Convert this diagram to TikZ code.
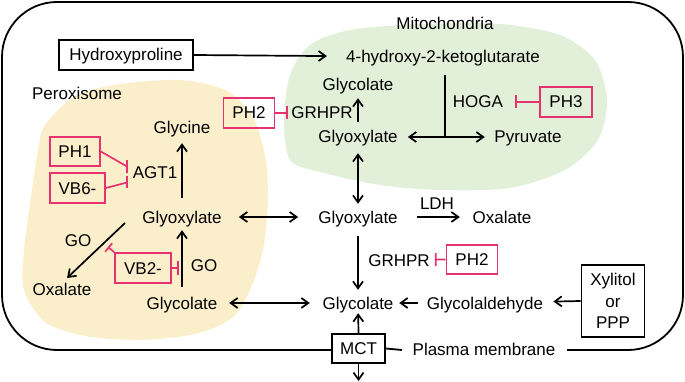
\documentclass[tikz,border=0pt]{standalone}
\usepackage{fontspec}
\setmainfont{Liberation Sans}
\usetikzlibrary{arrows.meta}
\definecolor{pk}{HTML}{E6336F}
\definecolor{grn}{HTML}{E2F0DA}
\definecolor{pch}{HTML}{FBEFCB}
\newcommand\mfs{\fontsize{17}{20}\selectfont}
\begin{document}
\begin{tikzpicture}[x=1pt,y=-1pt,
  txt/.style={font=\mfs, inner sep=0pt, text height=12pt, text depth=0pt},
  bbox/.style={draw=black, line width=1.6pt, font=\mfs, inner sep=0pt, text height=12pt, text depth=0pt},
  pbox/.style={draw=pk, line width=1.7pt, font=\mfs, inner sep=0pt, text height=12pt, text depth=0pt},
  arr/.style={line width=1.7pt, -{Straight Barb[length=7pt,width=10pt]}},
  darr/.style={line width=1.7pt, {Straight Barb[length=7pt,width=10pt]}-{Straight Barb[length=7pt,width=10pt]}},
  inh/.style={draw=pk, line width=1.7pt, -{Bar[width=13pt]}},
  pline/.style={draw=pk, line width=1.7pt},
]
\useasboundingbox (0,0) rectangle (685,382);
% compartments
\fill[pch] plot[smooth cycle] coordinates {(45,125) (75,96) (120,84) (180,80) (225,90) (252,115) (265,155) (268,200) (263,250) (250,290) (232,318) (195,334) (140,340) (85,336) (45,322) (24,290) (24,250) (32,190) (38,150)};
\fill[grn] plot[smooth cycle] coordinates {(290,75) (310,45) (350,30) (420,24) (500,24) (560,35) (595,60) (607,100) (598,140) (565,170) (510,188) (440,190) (380,185) (320,172) (290,160) (284,120)};
% cell membrane
\draw[line width=1.8pt, rounded corners=55] (567,350) -- (683,350) -- (683,2) -- (2,2) -- (2,350) -- (332,350);
% labels
\node[txt] (mito) at (445,24) {Mitochondria};
\node[txt] (perox) at (77,94) {Peroxisome};
\node[txt] (pm) at (484,349) {Plasma membrane};
% boxes
\node[bbox, minimum width=134pt, minimum height=30pt] (hyp) at (126,55) {Hydroxyproline};
\node[pbox, minimum width=51pt, minimum height=30pt] (ph2a) at (249,113) {PH2};
\node[pbox, minimum width=52pt, minimum height=30pt] (ph3) at (566,102) {PH3};
\node[pbox, minimum width=50pt, minimum height=29pt] (ph1) at (75,151.5) {PH1};
\node[pbox, minimum width=55pt, minimum height=30pt] (vb6) at (77.5,188) {VB6-};
\node[pbox, minimum width=56pt, minimum height=30pt] (vb2) at (143,268) {VB2-};
\node[pbox, minimum width=51pt, minimum height=29pt] (ph2b) at (472,259.5) {PH2};
\node[draw=black, line width=1.6pt, font=\fontsize{17}{21.5}\selectfont, align=center, inner sep=0pt, minimum width=63pt, minimum height=72pt] (xyl) at (613,301) {Xylitol\\or\\PPP};
\node[bbox, minimum width=53pt, minimum height=29pt] (mct) at (358.5,348.5) {MCT};
% metabolites
\node[txt] (hk) at (443,57) {4-hydroxy-2-ketoglutarate};
\node[txt] (mgc) at (358,85) {Glycolate};
\node[txt] (mgrhpr) at (322,113) {GRHPR};
\node[txt] (mgx) at (358,137) {Glyoxylate};
\node[txt] (hoga) at (478,102) {HOGA};
\node[txt] (pyr) at (528,137) {Pyruvate};
\node[txt] (gly) at (182,128) {Glycine};
\node[txt] (agt) at (155,173) {AGT1};
\node[txt] (pgx) at (182,217) {Glyoxylate};
\node[txt] (go1) at (78,240) {GO};
\node[txt] (pox) at (62,289) {Oxalate};
\node[txt] (go2) at (204,265) {GO};
\node[txt] (pgc) at (182,303) {Glycolate};
\node[txt] (cgx) at (358,217) {Glyoxylate};
\node[txt] (ldh) at (437,203) {LDH};
\node[txt] (cox) at (502,217) {Oxalate};
\node[txt] (cgrhpr) at (399,260) {GRHPR};
\node[txt] (cgc) at (358,303) {Glycolate};
\node[txt] (gald) at (485,303) {Glycolaldehyde};
% coordinates
\coordinate (jt) at (445,75);
\coordinate (j) at (445,137);
\coordinate (gos) at (125,223);
\coordinate (vb2t) at (108,247);
\coordinate (vb2r) at (179,268);
\coordinate (b1) at (127,166.5);
\coordinate (b2) at (127,182.5);
\coordinate (mctout) at (358.5,381);
% membrane segment right of MCT
\draw[line width=1.8pt] (mct.east) -- (402,350);
% connectors
\draw[arr, shorten >=19pt] (hyp.east) -- (hk);
\draw[line width=1.7pt] (jt) -- (j);
\draw[arr, shorten >=10pt] (j) -- (mgx);
\draw[arr, shorten >=9.5pt] (j) -- (pyr);
\draw[inh, shorten >=12pt] (ph3.west) -- (hoga);
\draw[inh, shorten >=3pt] (ph2a.east) -- (mgrhpr);
\draw[arr, shorten <=9pt, shorten >=7pt] (mgx) -- (mgc);
\draw[darr, shorten <=10pt, shorten >=7pt] (mgx) -- (cgx);
\draw[darr, shorten <=17pt, shorten >=20pt] (pgx) -- (cgx);
\draw[arr, shorten <=19pt, shorten >=12.7pt] (cgx) -- (cox);
\draw[arr, shorten <=13pt, shorten >=7pt] (cgx) -- (cgc);
\draw[inh, shorten >=5pt] (ph2b.west) -- (cgrhpr);
\draw[arr, shorten <=9pt, shorten >=5.6pt] (gald) -- (cgc);
\draw[arr, shorten >=10pt] (xyl.west) -- (gald);
\draw[darr, shorten <=11.6pt, shorten >=12.6pt] (pgc) -- (cgc);
\draw[arr, shorten >=4pt] (mct.north) -- (cgc);
\draw[arr] (mct.south) -- (mctout);
\draw[arr, shorten <=13pt, shorten >=9pt] (pgx) -- (gly);
\draw[arr, shorten <=10pt, shorten >=7pt] (pgc) -- (pgx);
\draw[arr, shorten >=7pt] (gos) -- (pox.north);
% inhibitions
\draw[inh, -{Bar[width=11pt]}] (vb2.north west) -- (vb2t);
\draw[inh, -{Bar[width=14pt]}] (vb2.east) -- (vb2r);
\draw[pline] (ph1.east) -- (b1);
\draw[pline] ([yshift=6.5pt]b1) -- ([yshift=-6.5pt]b1);
\draw[pline] (vb6.east) -- (b2);
\draw[pline] ([yshift=6pt]b2) -- ([yshift=-6pt]b2);
\end{tikzpicture}
\end{document}
